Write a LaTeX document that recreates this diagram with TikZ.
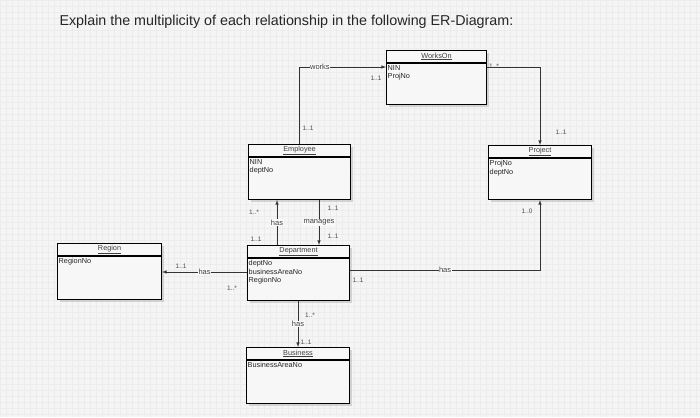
\documentclass[tikz,border=0pt]{standalone}
\usepackage{fontspec}
\setmainfont{Liberation Sans}
\usetikzlibrary{calc}
\usetikzlibrary{shadows}
\begin{document}
\begin{tikzpicture}[x=1pt, y=-1pt]
        % ================= 样式 =================
        \tikzset{
            % 实体框
            ent/.style={draw=black, line width=1.1pt, fill=gray!6, anchor=north west, inner sep=0pt,
                drop shadow={shadow xshift=2pt, shadow yshift=-2pt, fill=gray!60}},
            % 连线
            rel/.style={line width=0.6pt, black!80},
            arr/.style={rel, -latex},
            % 文字
            ttl/.style={font=\fontsize{7.3}{8}\selectfont, text=black!75, inner sep=0.5pt},
            att/.style={font=\fontsize{7.3}{8.2}\selectfont, text=black!85, anchor=north west, align=left, inner sep=0.5pt},
            mul/.style={font=\fontsize{6.5}{7}\selectfont, text=black!70, inner sep=0.5pt},
            lbl/.style={font=\fontsize{7.5}{8}\selectfont, text=black!75, fill=gray!5, inner sep=0.5pt}
        }
        \useasboundingbox (0,0) rectangle (700,417);
        \fill[gray!8] (0,0) rectangle (700,417);
        \draw[gray!15, line width=0.2pt, step=6pt] (0,0) grid (700,417);

        % ================= 标题 =================
        \node[anchor=west, font=\fontsize{14.3}{16}\selectfont, text=black!85] (title) at (56,22)
            {Explain the multiplicity of each relationship in the following ER-Diagram:};

        % ================= 实体 =================
        \newcommand{\erbox}[7]{%
            \node[ent, minimum width=#4pt, minimum height=#5pt] (#1) at (#2,#3) {};
            \draw[line width=1.1pt] ($(#1.north west)+(0,13)$) -- ($(#1.north east)+(0,13)$);
            \node[ttl] at ($(#1.north)+(0,6.5)$) {\underline{#6}};
            \node[att] at ($(#1.north west)+(1,15)$) {#7};
        }
        \erbox{worksOn}{386}{50}{100}{54}{WorksOn}{NIN\\ProjNo}
        \erbox{employee}{248}{144}{102}{55}{Employee}{NIN\\deptNo}
        \erbox{project}{488}{145}{103}{54}{Project}{ProjNo\\deptNo}
        \erbox{region}{57}{243}{104}{56}{Region}{RegionNo}
        \erbox{department}{247}{245}{102}{55}{Department}{deptNo\\businessAreaNo\\RegionNo}
        \erbox{business}{246}{347}{103}{56}{Business}{BusinessAreaNo}

        % ================= 关系 =================
        % works
        \draw[arr] (employee.north -| 299,0) |- (worksOn.west |- 0,67)
            node[lbl, pos=0.62] {works};
        \node[mul] at (308,128) {1..1};
        \node[mul] at (376,78) {1..1};

        % WorksOn -> Project
        \draw[arr] (worksOn.east |- 0,67) -| (project.north -| 540,0);
        \node[mul] at (494,66) {1..*};
        \node[mul] at (561,132) {1..1};

        % Department has Employee
        \draw[arr] (department.north -| 277,0) -- (employee.south -| 277,0)
            node[lbl, pos=0.5] {has};
        \node[mul] at (254,212) {1..*};
        \node[mul] at (256,239) {1..1};

        % manages
        \draw[arr] (employee.south -| 319,0) -- (department.north -| 319,0)
            node[lbl, pos=0.5] {manages};
        \node[mul] at (333,208) {1..1};
        \node[mul] at (333,236) {1..1};

        % Department has Region
        \draw[arr] (department.west |- 0,272) -- (region.east |- 0,272)
            node[lbl, pos=0.5] {has};
        \node[mul] at (181,266) {1..1};
        \node[mul] at (232,288) {1..*};

        % Department has Project
        \draw[arr] (department.east |- 0,270) -| (project.south -| 540,0)
            node[lbl, pos=0.25] {has};
        \node[mul] at (358,280) {1..1};
        \node[mul] at (527,211) {1..0};

        % Department has Business
        \draw[arr] (department.south -| 298,0) -- (business.north -| 298,0)
            node[lbl, pos=0.5] {has};
        \node[mul] at (310,315) {1..*};
        \node[mul] at (306,342) {1..1};
\end{tikzpicture}
\end{document}
